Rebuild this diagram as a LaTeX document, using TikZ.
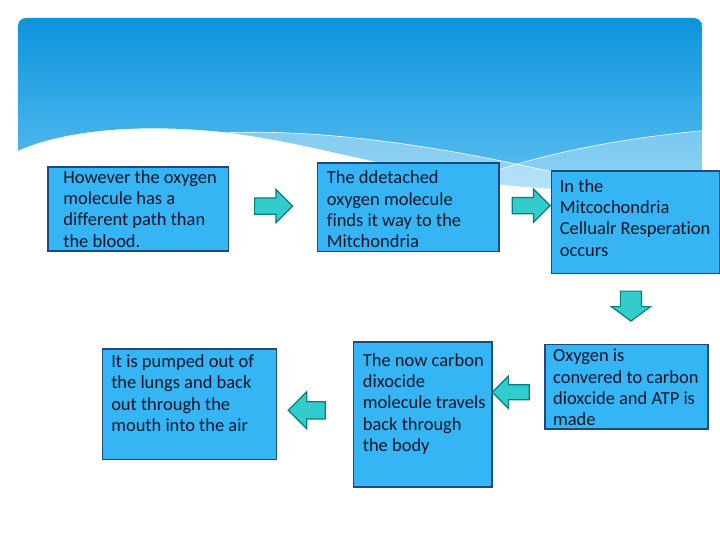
\documentclass[tikz,border=0pt]{standalone}
\usepackage{fontspec}
\setmainfont[Ligatures={NoCommon,NoContextual}]{Carlito}
\usetikzlibrary{shapes.arrows}
\definecolor{ink}{RGB}{12,20,40}
\definecolor{skytop}{RGB}{12,148,220}
\definecolor{skybot}{RGB}{98,194,242}
\definecolor{cardfill}{RGB}{53,181,244}
\definecolor{cardline}{RGB}{31,73,125}
\definecolor{turq}{RGB}{51,204,204}
\definecolor{teal}{RGB}{0,128,128}
\newcommand{\cardtext}[3]{\parbox[t][#2][t]{#1}{\hfuzz=\maxdimen
  \begin{tabular}[t]{@{}l@{}}#3\end{tabular}}}
\tikzset{
  every picture/.style={x=1pt, y=-1pt},
  card/.style={draw=cardline, fill=cardfill, line width=1.5pt, anchor=north west,
    text=ink, font=\fontsize{18.5}{21.4}\selectfont},
  blockarrow/.style={shape=single arrow, draw=teal, fill=turq, line width=1.2pt,
    inner xsep=0pt},
  wave/.style={draw=white, line width=0.6pt},
}

\begin{document}
\begin{tikzpicture}
  \fill[white] (0,0) rectangle (720,540);
  % sky band at the top
  \begin{scope}
    \clip[rounded corners=8pt] (18,18) rectangle (703,320);
    \clip (18,0) -- (18,151) .. controls (70,128) and (150,124) .. (230,133)
      .. controls (330,146) and (430,182) .. (540,188) -- (703,200) -- (703,0) -- cycle;
    \shade[top color=skytop, bottom color=skybot] (18,18) rectangle (703,200);
    \fill[white, opacity=.35] (225,133) .. controls (330,129) and (450,148) .. (565,175)
      -- (565,230) -- (225,230) -- cycle;
    \fill[white, opacity=.3] (490,173) .. controls (560,150) and (630,138) .. (703,131)
      -- (703,230) -- (490,230) -- cycle;
    \draw[wave] (225,133) .. controls (330,129) and (450,148) .. (565,175);
    \draw[wave] (490,173) .. controls (560,150) and (630,138) .. (703,131);
  \end{scope}

  \node[card, inner xsep=15.4pt, inner ysep=1pt] (path) at (47.3,166.7)
    {\cardtext{150.2pt}{82pt}{However the oxygen\\ molecule has a\\ different path than\\ the blood.}};
  \node[card, inner xsep=9.4pt, inner ysep=6pt] (detach) at (317.3,162.3)
    {\cardtext{162.9pt}{76.7pt}{The ddetached\\ oxygen molecule\\ finds it way to the\\ Mitchondria}};
  \node[card, inner xsep=8.3pt, inner ysep=6pt] (resp) at (551.7,170.7)
    {\cardtext{151.4pt}{90.6pt}{In the\\ Mitcochondria\\ Cellualr Resperation\\ occurs}};
  \node[card, inner xsep=8.3pt, inner ysep=2.4pt] (atp) at (545,344.3)
    {\cardtext{146.7pt}{79.9pt}{Oxygen is\\ convered to carbon\\ dioxcide and ATP is\\ made}};
  \node[card, inner xsep=9.4pt, inner ysep=9.4pt] (travel) at (353.3,341.7)
    {\cardtext{120.2pt}{126.8pt}{The now carbon\\ dixocide\\ molecule travels\\ back through\\ the body}};
  \node[card, inner xsep=9pt, inner ysep=3.4pt] (exhale) at (101.7,349)
    {\cardtext{156.3pt}{103.5pt}{It is pumped out of\\ the lungs and back\\ out through the\\ mouth into the air}};

  \node[blockarrow, minimum height=38pt, inner ysep=7.5pt, single arrow head extend=8.5pt] (a1) at (270,206.5) {};
  \node[blockarrow, minimum height=38pt, inner ysep=7.5pt, single arrow head extend=8.5pt] (a2) at (528,206) {};
  \node[blockarrow, minimum height=30pt, inner ysep=10pt, single arrow head extend=9pt,
    single arrow tip angle=107, rotate=-90] (a3) at (632,302.7) {};
  \node[blockarrow, minimum height=37pt, inner ysep=7pt, single arrow head extend=8.5pt, rotate=180] (a4) at (515.4,392.9) {};
  \node[blockarrow, minimum height=37pt, inner ysep=8pt, single arrow head extend=10pt, rotate=180] (a5) at (311.5,411) {};
\end{tikzpicture}
\end{document}
